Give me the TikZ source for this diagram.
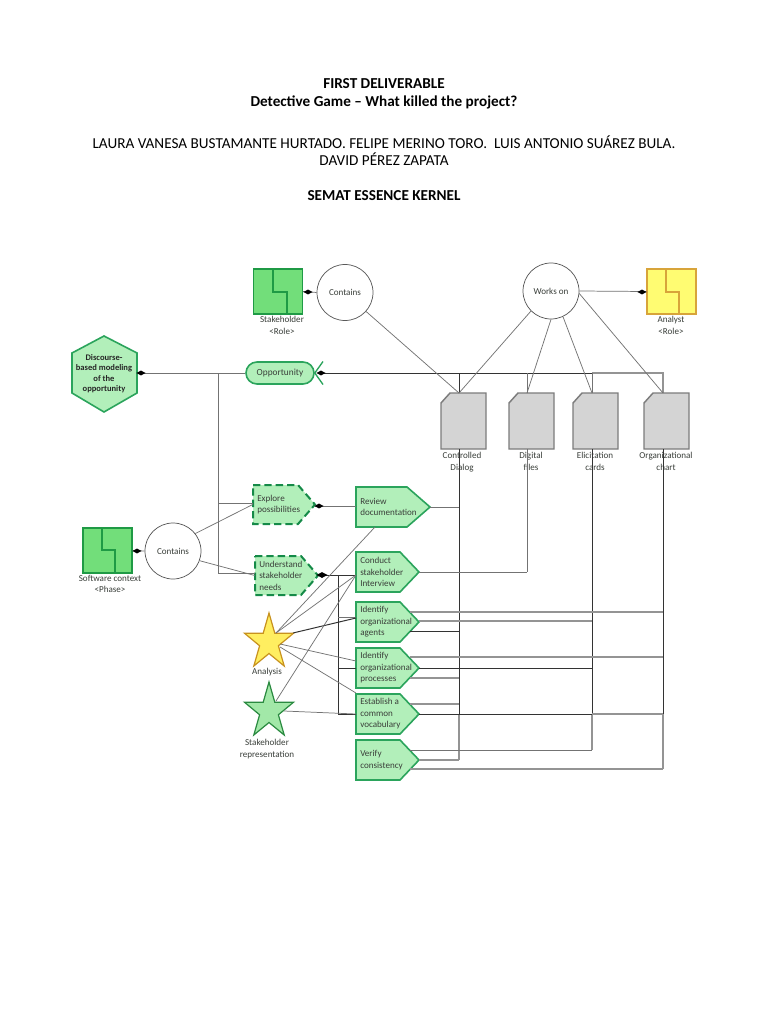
\documentclass[tikz,border=0pt]{standalone}
\usepackage{fontspec}
\setmainfont{Carlito}
\usetikzlibrary{shapes.geometric,calc}
\definecolor{actfill}{HTML}{B2EFBA}
\definecolor{actline}{HTML}{2BA45C}
\definecolor{dashline}{HTML}{158A48}
\definecolor{rolefill}{HTML}{72DE7A}
\definecolor{roleline}{HTML}{1F9A45}
\definecolor{yelfill}{HTML}{FFFC72}
\definecolor{yelline}{HTML}{D8A43A}
\definecolor{docfill}{HTML}{D4D4D4}
\definecolor{docline}{HTML}{7C7C7C}
\definecolor{starfill}{HTML}{FFEE60}
\definecolor{starline}{HTML}{C8921E}
\definecolor{stargreen}{HTML}{A2E8A8}
\definecolor{stargline}{HTML}{2A8A40}
\definecolor{txt}{HTML}{3A3F3A}
\tikzset{
  title/.style={font=\fontsize{11.4}{13.5}\selectfont,text=black,inner sep=0pt},
  titleb/.style={title,font=\fontsize{11.4}{13.5}\selectfont\bfseries},
  lab/.style={font=\fontsize{6.8}{8.6}\selectfont,text=txt,inner sep=0pt,align=center},
  acttxt/.style={lab,align=left,anchor=west},
  act/.style={draw=actline,fill=actfill,line width=1.2pt,line join=miter},
  actd/.style={draw=dashline,fill=actfill,line width=1.5pt,dash pattern=on 5.5pt off 3pt},
  rel/.style={draw=black!55,line width=.55pt},
  reld/.style={draw=black!80,line width=.75pt},
  rell/.style={draw=black!42,line width=.8pt},
  dia/.style={diamond,fill=black,inner sep=0pt,minimum width=7pt,minimum height=3.8pt},
  circ/.style={circle,draw=black!65,fill=white,line width=.55pt,minimum size=42pt,inner sep=0pt,font=\fontsize{6.8}{8}\selectfont,text=txt},
  box/.style={rectangle,inner sep=0pt,minimum width=36.5pt,minimum height=33.5pt},
  docb/.style={rectangle,inner sep=0pt,minimum width=33.5pt,minimum height=42pt},
}
% name, x1, y1, x-corner, x-tip, y2, look
\newcommand{\pentagonact}[7]{%
  \pgfmathsetmacro{\pym}{(#3+#6)/2}%
  \pgfmathsetmacro{\pxm}{(#2+#5)/2}%
  \pgfmathsetmacro{\pwid}{(#5-#2)*.75}%
  \pgfmathsetmacro{\phei}{(#6-#3)*.75}%
  \path[#7] (#2,#3) -- (#4,#3) -- (#5,\pym) -- (#4,#6) -- (#2,#6) -- cycle;
  \node[rectangle,inner sep=0pt,minimum width=\pwid pt,minimum height=\phei pt] (#1) at (\pxm,\pym) {};
}
% centre x, centre y, fill, line
\newcommand{\fivestar}[4]{%
  \path[draw=#4,fill=#3,line width=.9pt,line join=miter,shift={(#1,#2)}]
   (0,-29.3) -- (5.8,-9.05) -- (24.5,-9.05) -- (9.4,3.46) -- (15.2,23.7) -- (0,11.2)
   -- (-15.2,23.7) -- (-9.4,3.46) -- (-24.5,-9.05) -- (-5.8,-9.05) -- cycle;
}
\begin{document}
\begin{tikzpicture}[x=.75pt,y=-.75pt]
\useasboundingbox (0,0) rectangle (768,1024);
\fill[white] (0,0) rectangle (768,1024);

% heading
\node[titleb] (t1) at (384,84) {FIRST DELIVERABLE};
\node[titleb] (t2) at (384,102) {Detective Game – What killed the project?};
\node[title] (t3) at (384,142) {LAURA VANESA BUSTAMANTE HURTADO. FELIPE MERINO TORO.\ \ LUIS ANTONIO SUÁREZ BULA.};
\node[title] (t4) at (384,159) {DAVID PÉREZ ZAPATA};
\node[titleb] (t5) at (384,196) {SEMAT ESSENCE KERNEL};

% anchors for buses
\coordinate (hub) at (218,373);
\coordinate (hubE) at (218,503);
\coordinate (exploreIn) at (253,503);
\coordinate (busA) at (459,373);
\coordinate (busB) at (527,373);
\coordinate (busC) at (592,373);
\coordinate (busD) at (663,373);
\coordinate (endA) at (459,760);
\coordinate (endB) at (527,572);
\coordinate (endC) at (592,750);
\coordinate (endD) at (663,769);
\coordinate (kneeA) at (459,714);
\coordinate (kneeC) at (592,714);
\coordinate (kneeD) at (663,714);
\coordinate (oppEnd) at (321,373);
\coordinate (hubEnd) at (218,573);
\coordinate (underIn) at (255,573);
\coordinate (junc) at (338,575);
\coordinate (juncEnd) at (338,714);
\coordinate (topA) at (459,393);
\coordinate (topB) at (527,393);
\coordinate (topC) at (592,393);
\coordinate (topD) at (663,393);
\coordinate (discOut) at (137,373);

% buses above the work products
\draw[reld] (oppEnd) -- (busC);
\draw[rell] (busC) -- (busD) -- (topD);
\draw[reld] (busA) -- (topA);
\draw[rel] (busB) -- (topB);
\draw[rel] (busC) -- (topC);

\draw[rel] (hub) -- (hubEnd);

% shapes: work products
\foreach \xa/\xb in {441/486,509/554,573/618,644/689}{
  \path[draw=docline,fill=docfill,line width=1.1pt] (\xa,403) -- (\xa+9,393) -- (\xb,393) -- (\xb,449) -- (\xa,449) -- cycle;
}
\coordinate (botA) at (459,449);
\coordinate (botB) at (527,449);
\coordinate (botC) at (592,449);
\coordinate (botD) at (663,449);
\node[docb] (docA) at (463.5,421) {};
\node[docb] (docB) at (531.5,421) {};
\node[docb] (docC) at (595.5,421) {};
\node[docb] (docD) at (666.5,421) {};
\node[lab,anchor=north] (docAt) at (462,452) {Controlled\\Dialog};
\node[lab,anchor=north] (docBt) at (531,452) {Digital\\files};
\node[lab,anchor=north] (docCt) at (595,452) {Elicitation\\cards};
\node[lab,anchor=north] (docDt) at (666,452) {Organizational\\chart};
% buses below the work products
\draw[reld] (botA) -- (kneeA);
\draw[rell] (kneeA) -- (endA);
\draw[rel] (botB) -- (endB);
\draw[reld] (botC) -- (kneeC);
\draw[rell] (kneeC) -- (endC);
\draw[reld] (botD) -- (kneeD);
\draw[rell] (kneeD) -- (endD);

% role boxes
\node[box,draw=roleline,fill=rolefill,line width=1.1pt] (stake) at (278,291.5) {};
\draw[roleline,line width=1.1pt] (273,269) -- (273,292) -- (287,292) -- (287,314);
\node[lab,anchor=north] (staket) at (282,316) {Stakeholder\\<Role>};

\node[box,draw=yelline,fill=yelfill,line width=1.1pt] (analyst) at (671.5,291.5) {};
\draw[yelline,line width=1.1pt] (666,269) -- (666,292) -- (679,292) -- (679,314);
\node[lab,anchor=north] (analystt) at (671,316) {Analyst\\<Role>};

\node[box,draw=roleline,fill=rolefill,line width=1.1pt] (soft) at (107.5,550.5) {};
\draw[roleline,line width=1.1pt] (102,528) -- (102,550) -- (115,550) -- (115,573);
\node[lab,anchor=north] (softt) at (110,575) {Software context\\<Phase>};

% circles
\node[circ] (contA) at (345,292.5) {Contains};
\node[circ] (works) at (551,291) {Works on};
\node[circ] (contB) at (173,551) {Contains};

% hexagon
\path[draw=actline,fill=actfill,line width=1.2pt] (104,336) -- (137,353) -- (137,393) -- (104,412) -- (72,393) -- (72,353) -- cycle;
\node[lab,text=black!85,font=\fontsize{6.4}{7.8}\selectfont\bfseries] (disc) at (104,373.5) {Discourse-\\based modeling\\of the\\opportunity};

% opportunity
\node[rectangle,rounded corners=8.2pt,draw=actline,fill=actfill,line width=1.2pt,minimum width=51pt,minimum height=16.5pt,inner sep=0pt,font=\fontsize{7}{8}\selectfont,text=txt] (opp) at (280,373) {Opportunity};
\coordinate (crowA) at (323,361.5);
\coordinate (crowB) at (323,384.5);
\draw[actline,line width=1pt] (crowA) -- (opp.east) -- (crowB);

% activities
\pentagonact{explore}{253}{485}{298}{315}{524}{actd}
\pentagonact{under}{255}{556}{301}{318}{595}{actd}
\pentagonact{review}{356}{487}{407}{430}{527}{act}
\pentagonact{conduct}{356}{552}{400}{419}{592}{act}
\pentagonact{agents}{356}{602}{400}{419}{642}{act}
\pentagonact{procs}{356}{648}{400}{419}{688}{act}
\pentagonact{vocab}{356}{694}{400}{419}{734}{act}
\pentagonact{verify}{356}{740}{400}{419}{780}{act}

\node[acttxt] (exploret) at (257,504.5) {Explore\\possibilities};
\node[acttxt] (undert) at (259,575.5) {Understand\\stakeholder\\needs};
\node[acttxt] (reviewt) at (360,507) {Review\\documentation};
\node[acttxt] (conductt) at (360,572) {Conduct\\stakeholder\\Interview};
\node[acttxt] (agentst) at (360,622) {Identify\\organizational\\agents};
\node[acttxt] (procst) at (360,668) {Identify\\organizational\\processes};
\node[acttxt] (vocabt) at (360,714) {Establish a\\common\\vocabulary};
\node[acttxt] (verifyt) at (360,760) {Verify\\consistency};

% stars
\fivestar{269}{642.3}{starfill}{starline}
\fivestar{269}{711.3}{stargreen}{stargline}
\node[lab,anchor=north] (analysis) at (267,668) {Analysis};
\node[lab,anchor=north] (stakerep) at (267,739) {Stakeholder\\representation};

% ports on the stars
\coordinate (sa1) at (276,633);
\coordinate (sa2) at (293,633);
\coordinate (sa3) at (280,644);
\coordinate (sa4) at (280,647);
\coordinate (sb1) at (276,701);
\coordinate (sb2) at (284,711);

% ports on the activities
\coordinate (revB) at (375,527);
\coordinate (conL) at (356,575);
\coordinate (agL) at (356,618);
\coordinate (agJ) at (356,617);
\coordinate (prL) at (356,661);
\coordinate (prJ) at (356,668);
\coordinate (voL) at (356,693);
\coordinate (voJ) at (356,714);
\coordinate (expOut) at (315,506);
\coordinate (revIn) at (356,506);
\coordinate (undOut) at (318,575);

% Left-hand connectors
\draw[rel] (discOut) -- (opp.west);
\draw[rel] (contB.38) -- (explore.west);
\draw[rel] (contB.-20) -- (under.west);
\draw[rel] (hubE) -- (exploreIn);
\draw[rel] (hubEnd) -- (underIn);
\draw[rel] (soft.east) -- (contB.west);
\draw[rel] (stake.east) -- (contA.west);
\draw[rel] (expOut) -- (revIn);
\draw[reld] (undOut) -- (conL);
\draw[reld] (junc) -- (juncEnd);
\draw[rel] (junc |- agJ) -- (agJ);
\draw[reld] (junc |- prJ) -- (prJ);
\draw[reld] (juncEnd) -- (voJ);

% Upper relations
\draw[rel] (contA.-42) -- (topA);
\draw[rel] (works.225) -- (topA);
\draw[rel] (works.south) -- (topB);
\draw[rel] (works.-65) -- (topC);
\draw[rel] (works.-5) -- (topD);
\draw[rel] (works.east) -- (analyst.west);

% star relations
\draw[rel] (sa1) -- (revB);
\draw[rel] (sa1) -- (conL);
\draw[reld] (sa2) -- (agL);
\draw[rel] (sa3) -- (prL);
\draw[rel] (sa4) -- (voL);
\draw[rel] (sb1) -- (conL);
\draw[rel] (sb2) -- (voJ);

% Right-hand connectors
\coordinate (a1) at (410,612);
\coordinate (a2) at (419,621);
\coordinate (a3) at (410,631);
\coordinate (p1) at (410,657);
\coordinate (p2) at (419,668);
\coordinate (p3) at (410,678);
\coordinate (v1) at (410,704);
\coordinate (v2) at (419,714);
\coordinate (f1) at (410,750);
\coordinate (f2) at (419,760);
\coordinate (f3) at (410,769);
\draw[rel] (review.east) -- (review.east -| endA);
\draw[rel] (conduct.east) -- (endB);
\draw[rell] (a1) -- (a1 -| endD);
\draw[rell] (a2) -- (a2 -| endC);
\draw[reld] (a3) -- (a3 -| endA);
\draw[rell] (p1) -- (p1 -| endD);
\draw[reld] (p2) -- (p2 -| endC);
\draw[rell] (p3) -- (p3 -| endA);
\draw[rell] (v1) -- (v1 -| endA);
\draw[reld] (v2) -- (kneeC);
\draw[rell] (kneeC) -- (kneeD);
\draw[rel] (f1) -- (endC);
\draw[rell] (f2) -- (endA);
\draw[rell] (f3) -- (endD);

% diamonds
\node[dia] (d1) at (308,292) {};
\node[dia] (d2) at (642,292) {};
\node[dia] (d3) at (141,373) {};
\node[dia] (d4) at (321,373) {};
\node[dia] (d5) at (137,551) {};
\node[dia] (d6) at (319,506) {};
\node[dia,minimum width=8.5pt,minimum height=4.5pt] (d7) at (322,575) {};
\end{tikzpicture}
\end{document}
